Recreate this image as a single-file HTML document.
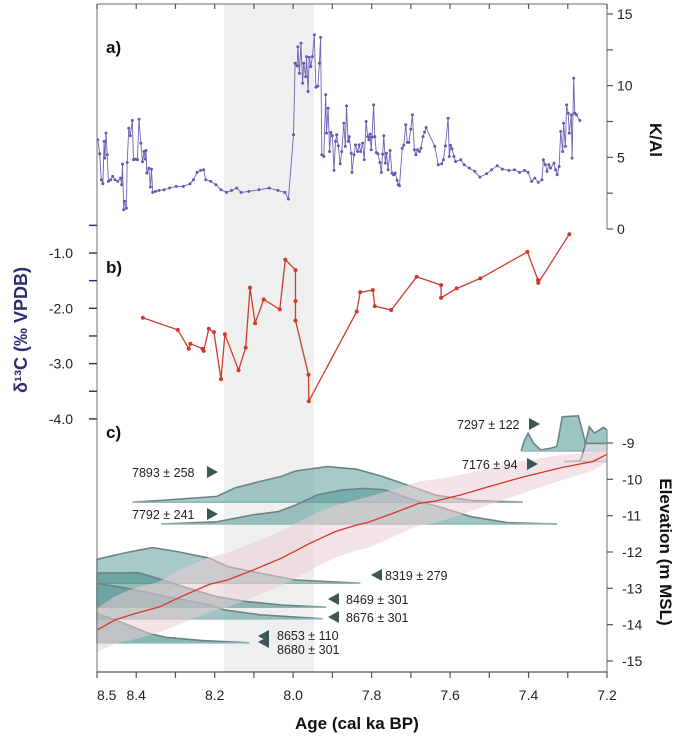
<!DOCTYPE html>
<html><head><meta charset="utf-8">
<style>
html,body{margin:0;padding:0;background:#fff;}
svg{display:block;font-family:"Liberation Sans",sans-serif;}
</style></head>
<body>
<svg id="chart" width="685" height="739" viewBox="0 0 685 739">
<rect x="224" y="4" width="90" height="668" fill="#eef0ef"/>
<g id="distG"></g>
<g id="bandG"></g>
<g id="seriesG"></g>
<g id="axesG"></g>
<g id="labelsG"></g>
</svg>
<script>
// ---------- DATA ----------
const kalAges = [8.498,8.493,8.489,8.485,8.482,8.480,8.477,8.474,8.471,8.465,8.460,8.454,8.447,8.440,8.437,8.435,8.432,8.430,8.425,8.423,8.419,8.415,8.410,8.407,8.402,8.397,8.393,8.388,8.384,8.380,8.377,8.375,8.373,8.368,8.364,8.361,8.358,8.351,8.342,8.329,8.315,8.298,8.280,8.263,8.254,8.245,8.236,8.228,8.223,8.210,8.197,8.184,8.170,8.157,8.144,8.133,8.113,8.087,8.061,8.039,8.021,8.012,7.999,7.995,7.990,7.988,7.984,7.980,7.976,7.973,7.968,7.966,7.962,7.959,7.955,7.951,7.946,7.942,7.937,7.933,7.930,7.927,7.922,7.917,7.915,7.911,7.907,7.904,7.900,7.896,7.892,7.889,7.885,7.880,7.876,7.871,7.867,7.864,7.860,7.857,7.852,7.850,7.845,7.841,7.836,7.832,7.828,7.823,7.819,7.814,7.810,7.807,7.804,7.801,7.799,7.795,7.792,7.788,7.784,7.779,7.775,7.772,7.769,7.765,7.762,7.758,7.753,7.748,7.744,7.740,7.735,7.732,7.729,7.722,7.718,7.713,7.709,7.705,7.700,7.696,7.691,7.687,7.683,7.678,7.674,7.669,7.665,7.661,7.639,7.630,7.621,7.617,7.612,7.605,7.602,7.599,7.595,7.590,7.586,7.573,7.564,7.551,7.537,7.524,7.507,7.494,7.480,7.467,7.450,7.436,7.423,7.410,7.401,7.392,7.384,7.375,7.366,7.362,7.357,7.353,7.348,7.344,7.335,7.331,7.327,7.322,7.318,7.313,7.311,7.306,7.303,7.299,7.296,7.291,7.289,7.285,7.282,7.278,7.269];
const kalValues = [6.22,5.25,3.44,3.16,6.11,4.95,6.69,5.18,3.32,3.44,3.67,3.44,3.32,3.55,3.09,4.53,1.35,1.93,1.46,4.64,7.04,6.50,7.57,4.83,4.88,4.83,7.66,5.99,4.69,5.41,4.88,5.48,3.90,4.25,2.93,4.18,2.55,2.62,2.69,2.74,2.86,2.97,2.97,3.16,3.44,3.95,4.09,4.13,3.44,3.32,3.09,2.74,2.55,2.69,2.86,2.55,2.62,2.74,2.86,2.69,2.55,2.09,6.57,11.56,11.38,12.72,10.87,12.96,10.17,11.56,10.63,12.03,9.59,11.98,11.33,12.03,13.54,9.89,9.98,11.56,13.37,5.18,5.06,9.36,6.69,8.43,5.41,6.73,6.50,4.09,6.11,6.57,5.80,4.55,5.41,7.38,5.76,8.59,6.11,6.45,5.29,3.95,5.18,5.87,5.41,5.87,5.41,5.99,4.83,7.50,6.45,6.22,6.62,5.53,6.41,8.66,6.45,5.34,5.25,4.64,3.95,5.22,6.50,4.60,5.29,4.13,5.48,3.90,3.78,3.90,3.39,3.09,3.02,5.62,5.85,7.27,6.04,6.04,6.97,7.96,5.53,5.18,5.53,5.41,5.64,6.45,6.76,7.08,5.76,4.48,4.55,4.83,5.80,7.73,5.06,5.83,5.60,5.06,4.71,4.83,4.48,4.25,4.02,3.62,3.85,4.13,4.41,4.18,4.09,4.13,3.95,4.09,3.95,3.32,3.55,3.25,3.44,4.83,4.48,4.02,4.48,4.25,4.60,4.13,3.78,4.36,6.80,5.41,7.38,5.76,8.66,8.08,6.69,7.96,4.95,10.52,8.08,7.96,7.57];

const d13Ages = [8.383,8.294,8.266,8.262,8.231,8.228,8.215,8.202,8.184,8.174,8.139,8.121,8.110,8.097,8.075,8.034,8.020,7.994,7.994,7.994,7.961,7.960,7.838,7.829,7.797,7.792,7.750,7.685,7.623,7.623,7.583,7.523,7.403,7.376,7.375,7.296];
const d13Values = [-2.17,-2.39,-2.73,-2.64,-2.73,-2.77,-2.37,-2.43,-3.28,-2.47,-3.12,-2.71,-1.63,-2.27,-1.84,-2.02,-1.12,-1.31,-1.87,-2.22,-3.20,-3.68,-2.06,-1.71,-1.67,-1.96,-2.03,-1.43,-1.58,-1.81,-1.64,-1.46,-0.98,-1.49,-1.54,-0.66];

const modelAges = [8.5,8.454,8.413,8.340,8.286,8.213,8.167,8.103,8.030,7.957,7.893,7.839,7.811,7.747,7.679,7.638,7.574,7.501,7.419,7.318,7.236,7.2];
const modelElev = [-14.15,-13.87,-13.73,-13.51,-13.23,-12.89,-12.77,-12.50,-12.17,-11.76,-11.44,-11.26,-11.19,-10.94,-10.66,-10.60,-10.43,-10.20,-9.95,-9.68,-9.51,-9.31];
const modelErr = [0.6,0.65,0.7,0.7,0.75,0.75,0.75,0.75,0.75,0.75,0.72,0.7,0.7,0.65,0.6,0.6,0.55,0.5,0.45,0.35,0.25,0.2];

const distLabels = ["7893 ± 258","7792 ± 241","8319 ± 279","8469 ± 301","8676 ± 301","8653 ± 110","7297 ± 122","7176 ± 94"];
const distBase = [-10.63,-11.23,-12.86,-13.52,-13.84,-14.50,-9.22,-9.51];
const distAges = [
 [8.409,8.322,8.194,8.149,8.085,8.030,7.994,7.912,7.839,7.775,7.693,7.638,7.547,7.414],
 [8.336,8.194,8.103,8.039,7.994,7.939,7.875,7.820,7.766,7.693,7.629,7.547,7.455,7.328],
 [8.5,8.432,8.359,8.295,8.213,8.167,8.085,7.994,7.829],
 [8.5,8.395,8.331,8.267,8.194,8.121,8.030,7.916],
 [8.5,8.413,8.322,8.213,8.176,8.085,7.925],
 [8.5,8.441,8.368,8.322,8.231,8.112],
 [7.419,7.410,7.401,7.387,7.369,7.346,7.328,7.314,7.273,7.259,7.255,7.245,7.232,7.209,7.2],
 [7.309,7.268,7.259,7.255,7.2]
];
const distDens = [
 [0,0.06,0.16,0.39,0.57,0.71,0.86,0.98,0.91,0.72,0.41,0.20,0.05,0],
 [0,0.06,0.25,0.34,0.52,0.80,0.94,0.98,0.94,0.66,0.48,0.20,0.04,0],
 [0.66,0.83,0.98,0.87,0.69,0.46,0.28,0.09,0],
 [0.94,0.95,0.75,0.52,0.29,0.16,0.06,0],
 [0.98,0.82,0.61,0.39,0.25,0.11,0],
 [0.81,0.58,0.26,0.15,0.06,0],
 [0,0.30,0.49,0.21,0.03,0.07,0.12,0.94,0.97,0.39,0.21,0.67,0.49,0.65,0.58],
 [0,0.02,0.32,0.50,0.50]
];

const xTicks = [8.4,8.2,8.0,7.8,7.6,7.4,7.2];
const kalTicks = [0,5,10,15];
const d13Ticks = [-1.0,-2.0,-3.0,-4.0];
const elevTicks = [-9,-10,-11,-12,-13,-14,-15];

// ---------- SCALES ----------
const NS="http://www.w3.org/2000/svg";
const X0=97, X1=607;
const x = a => X0 + (8.5 - a)/(8.5-7.2)*(X1-X0);
const yK = v => 229 - v*(229-14)/15;
const yD = v => 253 + (-1 - v)*55.3;
const yE = v => 443 + (-9 - v)*36.33;
function mk(tag, attrs, parent){const e=document.createElementNS(NS,tag);for(const k in attrs)e.setAttribute(k,attrs[k]);parent.appendChild(e);return e;}
const distG=document.getElementById('distG'),bandG=document.getElementById('bandG'),seriesG=document.getElementById('seriesG'),axesG=document.getElementById('axesG'),labelsG=document.getElementById('labelsG');

// ---------- DISTRIBUTIONS ----------
const fills=["rgba(80,150,145,0.5)","rgba(80,150,145,0.55)","rgba(80,150,145,0.5)","rgba(60,135,130,0.55)","rgba(70,140,135,0.5)","rgba(60,135,130,0.6)","rgba(90,160,155,0.6)","rgba(240,225,228,0.6)"];
distAges.forEach((ages,i)=>{
  const b=distBase[i];
  let d="M"+Math.max(x(ages[0]),X0)+","+yE(b);
  ages.forEach((a,j)=>{d+=" L"+Math.max(x(a),X0).toFixed(1)+","+yE(b+distDens[i][j]).toFixed(1);});
  const line=d;
  d+=" L"+x(ages[ages.length-1]).toFixed(1)+","+yE(b)+" Z";
  const p=mk('path',{d:d,fill:fills[i],stroke:'none'},distG);
  
  
  let s="M"+x(ages[0]).toFixed(1)+","+yE(b).toFixed(1);
  ages.forEach((a,j)=>{s+=" L"+Math.max(x(a),X0).toFixed(1)+","+yE(b+distDens[i][j]).toFixed(1);});
  const l=mk('path',{d:s,fill:'none',stroke:'#6d8482','stroke-width':1.6},distG);
  
  
  const bl=mk('line',{x1:x(ages[0]),x2:x(ages[ages.length-1]),y1:yE(b),y2:yE(b),stroke:'#8fb8b4','stroke-width':1.5},distG);
  
  
});

// ---------- AGE MODEL BAND ----------
let bd="";
modelAges.forEach((a,i)=>{bd+=(i?" L":"M")+x(a).toFixed(1)+","+yE(modelElev[i]+modelErr[i]).toFixed(1);});
for(let i=modelAges.length-1;i>=0;i--){bd+=" L"+x(modelAges[i]).toFixed(1)+","+yE(modelElev[i]-modelErr[i]).toFixed(1);}
bd+=" Z";
const band=mk('path',{d:bd,fill:'rgba(235,205,212,0.55)'},bandG);


const ml=mk('polyline',{points:modelAges.map((a,i)=>x(a).toFixed(1)+","+yE(modelElev[i]).toFixed(1)).join(" "),fill:'none',stroke:'#d8342a','stroke-width':1.3},bandG);



// ---------- SERIES ----------
const kl=mk('polyline',{points:kalAges.map((a,i)=>x(a).toFixed(1)+","+yK(kalValues[i]).toFixed(1)).join(" "),fill:'none',stroke:'#6e63b5','stroke-width':0.9},seriesG);


kalAges.forEach((a,i)=>{
  const c=mk('circle',{cx:x(a).toFixed(1),cy:yK(kalValues[i]).toFixed(1),r:1.5,fill:'#6559ad'},seriesG);
  
  
});
const dl=mk('polyline',{points:d13Ages.map((a,i)=>x(a).toFixed(1)+","+yD(d13Values[i]).toFixed(1)).join(" "),fill:'none',stroke:'#d13b2c','stroke-width':1.3},seriesG);


d13Ages.forEach((a,i)=>{
  const c=mk('circle',{cx:x(a).toFixed(1),cy:yD(d13Values[i]).toFixed(1),r:2,fill:'#cf3a2b'},seriesG);
  
  
});

// ---------- AXES ----------
const ax='#888';
function ln(x1,y1,x2,y2,c,w,name){const l=mk('line',{x1:x1,y1:y1,x2:x2,y2:y2,stroke:c,'stroke-width':w},axesG);return l;}
ln(X0,4,X1,4,ax,1.2,'top-border');
ln(X0,4,X0,672,ax,1.2,'left-border');
ln(X1,4,X1,229,ax,1.2,'right-axis-k-al');
ln(X1,430,X1,672,ax,1.2,'right-axis-elevation');
ln(X0,672,X1,672,'#555',1.2,'x-axis-line');
for(let k=0;k<=13;k++){const a=8.5-k*0.1;ln(x(a),672,x(a),678,'#555',1.2,'x-tick');ln(x(a),4,x(a),9,'#555',1.2,'top-tick');}
xTicks.forEach(v=>{const t=mk('text',{x:x(v),y:700,'text-anchor':'middle','font-size':14,fill:'#222'},axesG);t.textContent=v.toFixed(1);});
const t0=mk('text',{x:x(8.5),y:700,'text-anchor':'start','font-size':14,fill:'#222'},axesG);t0.textContent='8.5';


for(let v=0;v<=15;v+=2.5){ln(X1,yK(v),X1+6,yK(v),'#555',1.2,'k-al-tick');}
kalTicks.forEach(v=>{const t=mk('text',{x:617,y:yK(v)+5,'font-size':14,fill:'#222'},axesG);t.textContent=v;});
for(let v=-0.5;v>=-4.01;v-=0.5){ln(X0-8,yD(v),X0,yD(v),'#2b2d6e',1.4,'d13c-tick');}
d13Ticks.forEach(v=>{const t=mk('text',{x:73,y:yD(v)+5,'text-anchor':'end','font-size':14,fill:'#222'},axesG);t.textContent=v.toFixed(1);});
elevTicks.forEach(v=>{ln(X1,yE(v),X1+6,yE(v),'#555',1.2,'elevation-tick');const t=mk('text',{x:622,y:yE(v)+5,'font-size':14,fill:'#222'},axesG);t.textContent=v;});
</script>
<svg width="0" height="0"></svg>
<script>
// ---------- TEXT LABELS ----------
(function(){
const g=document.getElementById('labelsG');const NS="http://www.w3.org/2000/svg";
function tx(s,x,y,attrs,name){const t=document.createElementNS(NS,'text');t.setAttribute('x',x);t.setAttribute('y',y);for(const k in attrs)t.setAttribute(k,attrs[k]);t.textContent=s;


g.appendChild(t);return t;}
function tri(x,y,dir,name){const p=document.createElementNS(NS,'path');const d=dir>0?`M${x},${y-6} L${x+11},${y} L${x},${y+6} Z`:`M${x+11},${y-6} L${x},${y} L${x+11},${y+6} Z`;p.setAttribute('d',d);p.setAttribute('fill','#3c5657');


g.appendChild(p);}
const bold={'font-size':17,'font-weight':'bold',fill:'#111'};
tx('a)',106,53,bold,'panel-a-label');
tx('b)',106,273,bold,'panel-b-label');
tx('c)',106,438,bold,'panel-c-label');
const f={'font-size':12.5,fill:'#222'};
tx('7893 ± 258',132,477,f,'label-7893');tri(207,472,1,'marker-7893');
tx('7792 ± 241',132,519,f,'label-7792');tri(207,514,1,'marker-7792');
tx('7297 ± 122',457,429,f,'label-7297');tri(529,424,1,'marker-7297');
tx('7176 ± 94',462,469,f,'label-7176');tri(527,464,1,'marker-7176');
tri(371,575,-1,'marker-8319');tx('8319 ± 279',385,580,f,'label-8319');
tri(328,599,-1,'marker-8469');tx('8469 ± 301',346,604,f,'label-8469');
tri(328,617,-1,'marker-8676');tx('8676 ± 301',346,622,f,'label-8676');
tri(258,636,-1,'marker-8653');tri(258,642,-1,'marker-8680');
tx('8653 ± 110',277,640,f,'label-8653');tx('8680 ± 301',277,654,f,'label-8680');
tx('Age (cal ka BP)',295,729,{'font-size':17,'font-weight':'bold',fill:'#111'},'x-axis-title');
tx('K/Al',650,140,{'font-size':17,'font-weight':'bold',fill:'#111',transform:'rotate(90 650 140)','text-anchor':'middle'},'k-al-axis-title');
tx('Elevation (m MSL)',660,552,{'font-size':17,'font-weight':'bold',fill:'#111',transform:'rotate(90 660 552)','text-anchor':'middle'},'elevation-axis-title');
const ttl=tx('',27,330,{'font-size':18,'font-weight':'bold',fill:'#2b2d6e',transform:'rotate(-90 27 330)','text-anchor':'middle'},'d13c-axis-title');
ttl.textContent='δ¹³C (‰ VPDB)';
})();
</script>
</body></html>
